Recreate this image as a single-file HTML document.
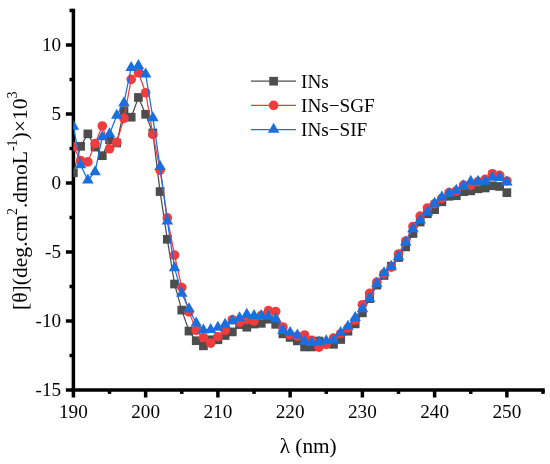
<!DOCTYPE html>
<html lang="en"><head><meta charset="utf-8"><title>CD spectra</title>
<style>html,body{margin:0;padding:0;background:#fff}body{width:550px;height:464px;overflow:hidden}</style></head>
<body>
<svg width="550" height="464" viewBox="0 0 550 464" style="display:block">
<rect width="550" height="464" fill="#fff"/>
<defs><clipPath id="c"><rect x="73.4" y="10.5" width="469.59" height="379.5"/></clipPath></defs>
<g stroke="#000" stroke-width="3.5" fill="none">
<line x1="73.4" y1="8.75" x2="73.4" y2="391.75"/>
<line x1="71.65" y1="390" x2="544.74" y2="390"/>
<line x1="73.40" y1="390" x2="73.40" y2="397.5"/>
<line x1="109.52" y1="390" x2="109.52" y2="393.9"/>
<line x1="145.65" y1="390" x2="145.65" y2="397.5"/>
<line x1="181.77" y1="390" x2="181.77" y2="393.9"/>
<line x1="217.89" y1="390" x2="217.89" y2="397.5"/>
<line x1="254.01" y1="390" x2="254.01" y2="393.9"/>
<line x1="290.13" y1="390" x2="290.13" y2="397.5"/>
<line x1="326.26" y1="390" x2="326.26" y2="393.9"/>
<line x1="362.38" y1="390" x2="362.38" y2="397.5"/>
<line x1="398.50" y1="390" x2="398.50" y2="393.9"/>
<line x1="434.62" y1="390" x2="434.62" y2="397.5"/>
<line x1="470.75" y1="390" x2="470.75" y2="393.9"/>
<line x1="506.87" y1="390" x2="506.87" y2="397.5"/>
<line x1="542.99" y1="390" x2="542.99" y2="393.9"/>
<line x1="73.4" y1="390.00" x2="65.9" y2="390.00"/>
<line x1="73.4" y1="355.50" x2="69.5" y2="355.50"/>
<line x1="73.4" y1="321.00" x2="65.9" y2="321.00"/>
<line x1="73.4" y1="286.50" x2="69.5" y2="286.50"/>
<line x1="73.4" y1="252.00" x2="65.9" y2="252.00"/>
<line x1="73.4" y1="217.50" x2="69.5" y2="217.50"/>
<line x1="73.4" y1="183.00" x2="65.9" y2="183.00"/>
<line x1="73.4" y1="148.50" x2="69.5" y2="148.50"/>
<line x1="73.4" y1="114.00" x2="65.9" y2="114.00"/>
<line x1="73.4" y1="79.50" x2="69.5" y2="79.50"/>
<line x1="73.4" y1="45.00" x2="65.9" y2="45.00"/>
<line x1="73.4" y1="10.50" x2="69.5" y2="10.50"/>
</g>
<g clip-path="url(#c)">
<polyline fill="none" stroke="#4d4d4d" stroke-width="1.25" stroke-linejoin="round" points="73.40,172.79 80.62,146.29 87.85,133.87 95.07,147.12 102.30,155.68 109.52,139.67 116.75,142.98 123.97,110.69 131.20,117.17 138.42,97.44 145.65,114.28 152.87,132.91 160.09,191.56 167.32,239.30 174.54,284.02 181.77,310.10 188.99,331.07 196.22,340.73 203.44,345.84 210.67,339.77 217.89,339.77 225.11,335.49 232.34,331.90 239.56,324.59 246.79,327.21 254.01,324.04 261.24,323.35 268.46,319.21 275.69,324.31 282.91,333.83 290.13,337.42 297.36,340.87 304.58,346.94 311.81,346.94 319.03,341.01 326.26,343.08 333.48,344.32 340.71,339.49 347.93,331.21 355.16,323.90 362.38,312.86 369.60,298.64 376.83,285.12 384.05,275.46 391.28,266.21 398.50,257.52 405.73,246.89 412.95,233.51 420.18,222.05 427.40,213.77 434.62,209.63 441.85,201.77 449.07,196.25 456.30,195.70 463.52,191.69 470.75,190.87 477.97,188.80 485.20,187.97 492.42,185.76 499.65,186.45 506.87,192.66"/>
<rect x="69.05" y="168.44" width="8.7" height="8.7" fill="#4d4d4d"/><rect x="76.27" y="141.94" width="8.7" height="8.7" fill="#4d4d4d"/><rect x="83.50" y="129.52" width="8.7" height="8.7" fill="#4d4d4d"/><rect x="90.72" y="142.77" width="8.7" height="8.7" fill="#4d4d4d"/><rect x="97.95" y="151.33" width="8.7" height="8.7" fill="#4d4d4d"/><rect x="105.17" y="135.32" width="8.7" height="8.7" fill="#4d4d4d"/><rect x="112.40" y="138.63" width="8.7" height="8.7" fill="#4d4d4d"/><rect x="119.62" y="106.34" width="8.7" height="8.7" fill="#4d4d4d"/><rect x="126.85" y="112.82" width="8.7" height="8.7" fill="#4d4d4d"/><rect x="134.07" y="93.09" width="8.7" height="8.7" fill="#4d4d4d"/><rect x="141.30" y="109.93" width="8.7" height="8.7" fill="#4d4d4d"/><rect x="148.52" y="128.56" width="8.7" height="8.7" fill="#4d4d4d"/><rect x="155.74" y="187.21" width="8.7" height="8.7" fill="#4d4d4d"/><rect x="162.97" y="234.95" width="8.7" height="8.7" fill="#4d4d4d"/><rect x="170.19" y="279.67" width="8.7" height="8.7" fill="#4d4d4d"/><rect x="177.42" y="305.75" width="8.7" height="8.7" fill="#4d4d4d"/><rect x="184.64" y="326.72" width="8.7" height="8.7" fill="#4d4d4d"/><rect x="191.87" y="336.38" width="8.7" height="8.7" fill="#4d4d4d"/><rect x="199.09" y="341.49" width="8.7" height="8.7" fill="#4d4d4d"/><rect x="206.32" y="335.42" width="8.7" height="8.7" fill="#4d4d4d"/><rect x="213.54" y="335.42" width="8.7" height="8.7" fill="#4d4d4d"/><rect x="220.76" y="331.14" width="8.7" height="8.7" fill="#4d4d4d"/><rect x="227.99" y="327.55" width="8.7" height="8.7" fill="#4d4d4d"/><rect x="235.21" y="320.24" width="8.7" height="8.7" fill="#4d4d4d"/><rect x="242.44" y="322.86" width="8.7" height="8.7" fill="#4d4d4d"/><rect x="249.66" y="319.69" width="8.7" height="8.7" fill="#4d4d4d"/><rect x="256.89" y="319.00" width="8.7" height="8.7" fill="#4d4d4d"/><rect x="264.11" y="314.86" width="8.7" height="8.7" fill="#4d4d4d"/><rect x="271.34" y="319.96" width="8.7" height="8.7" fill="#4d4d4d"/><rect x="278.56" y="329.48" width="8.7" height="8.7" fill="#4d4d4d"/><rect x="285.78" y="333.07" width="8.7" height="8.7" fill="#4d4d4d"/><rect x="293.01" y="336.52" width="8.7" height="8.7" fill="#4d4d4d"/><rect x="300.23" y="342.59" width="8.7" height="8.7" fill="#4d4d4d"/><rect x="307.46" y="342.59" width="8.7" height="8.7" fill="#4d4d4d"/><rect x="314.68" y="336.66" width="8.7" height="8.7" fill="#4d4d4d"/><rect x="321.91" y="338.73" width="8.7" height="8.7" fill="#4d4d4d"/><rect x="329.13" y="339.97" width="8.7" height="8.7" fill="#4d4d4d"/><rect x="336.36" y="335.14" width="8.7" height="8.7" fill="#4d4d4d"/><rect x="343.58" y="326.86" width="8.7" height="8.7" fill="#4d4d4d"/><rect x="350.81" y="319.55" width="8.7" height="8.7" fill="#4d4d4d"/><rect x="358.03" y="308.51" width="8.7" height="8.7" fill="#4d4d4d"/><rect x="365.25" y="294.29" width="8.7" height="8.7" fill="#4d4d4d"/><rect x="372.48" y="280.77" width="8.7" height="8.7" fill="#4d4d4d"/><rect x="379.70" y="271.11" width="8.7" height="8.7" fill="#4d4d4d"/><rect x="386.93" y="261.86" width="8.7" height="8.7" fill="#4d4d4d"/><rect x="394.15" y="253.17" width="8.7" height="8.7" fill="#4d4d4d"/><rect x="401.38" y="242.54" width="8.7" height="8.7" fill="#4d4d4d"/><rect x="408.60" y="229.16" width="8.7" height="8.7" fill="#4d4d4d"/><rect x="415.83" y="217.70" width="8.7" height="8.7" fill="#4d4d4d"/><rect x="423.05" y="209.42" width="8.7" height="8.7" fill="#4d4d4d"/><rect x="430.27" y="205.28" width="8.7" height="8.7" fill="#4d4d4d"/><rect x="437.50" y="197.42" width="8.7" height="8.7" fill="#4d4d4d"/><rect x="444.72" y="191.90" width="8.7" height="8.7" fill="#4d4d4d"/><rect x="451.95" y="191.35" width="8.7" height="8.7" fill="#4d4d4d"/><rect x="459.17" y="187.34" width="8.7" height="8.7" fill="#4d4d4d"/><rect x="466.40" y="186.52" width="8.7" height="8.7" fill="#4d4d4d"/><rect x="473.62" y="184.45" width="8.7" height="8.7" fill="#4d4d4d"/><rect x="480.85" y="183.62" width="8.7" height="8.7" fill="#4d4d4d"/><rect x="488.07" y="181.41" width="8.7" height="8.7" fill="#4d4d4d"/><rect x="495.30" y="182.10" width="8.7" height="8.7" fill="#4d4d4d"/><rect x="502.52" y="188.31" width="8.7" height="8.7" fill="#4d4d4d"/>

<polyline fill="none" stroke="#f03c3c" stroke-width="1.25" stroke-linejoin="round" points="73.40,146.71 80.62,160.64 87.85,161.89 95.07,143.67 102.30,126.01 109.52,148.78 116.75,142.29 123.97,118.42 131.20,79.36 138.42,72.74 145.65,92.75 152.87,134.42 160.09,170.17 167.32,217.91 174.54,255.04 181.77,287.47 188.99,311.89 196.22,330.25 203.44,337.70 210.67,343.08 217.89,336.73 225.11,330.25 232.34,319.76 239.56,322.38 246.79,319.62 254.01,321.00 261.24,315.48 268.46,310.65 275.69,311.48 282.91,326.93 290.13,334.80 297.36,336.18 304.58,334.94 311.81,340.32 319.03,347.08 326.26,344.46 333.48,338.11 340.71,333.70 347.93,328.18 355.16,320.31 362.38,304.72 369.60,293.40 376.83,282.08 384.05,273.67 391.28,267.18 398.50,253.93 405.73,240.96 412.95,226.47 420.18,216.12 427.40,207.98 434.62,203.70 441.85,198.46 449.07,192.52 456.30,191.00 463.52,185.07 470.75,185.48 477.97,181.76 485.20,179.27 492.42,173.75 499.65,175.27 506.87,180.93"/>
<circle cx="73.40" cy="146.71" r="4.8" fill="#f03c3c"/><circle cx="80.62" cy="160.64" r="4.8" fill="#f03c3c"/><circle cx="87.85" cy="161.89" r="4.8" fill="#f03c3c"/><circle cx="95.07" cy="143.67" r="4.8" fill="#f03c3c"/><circle cx="102.30" cy="126.01" r="4.8" fill="#f03c3c"/><circle cx="109.52" cy="148.78" r="4.8" fill="#f03c3c"/><circle cx="116.75" cy="142.29" r="4.8" fill="#f03c3c"/><circle cx="123.97" cy="118.42" r="4.8" fill="#f03c3c"/><circle cx="131.20" cy="79.36" r="4.8" fill="#f03c3c"/><circle cx="138.42" cy="72.74" r="4.8" fill="#f03c3c"/><circle cx="145.65" cy="92.75" r="4.8" fill="#f03c3c"/><circle cx="152.87" cy="134.42" r="4.8" fill="#f03c3c"/><circle cx="160.09" cy="170.17" r="4.8" fill="#f03c3c"/><circle cx="167.32" cy="217.91" r="4.8" fill="#f03c3c"/><circle cx="174.54" cy="255.04" r="4.8" fill="#f03c3c"/><circle cx="181.77" cy="287.47" r="4.8" fill="#f03c3c"/><circle cx="188.99" cy="311.89" r="4.8" fill="#f03c3c"/><circle cx="196.22" cy="330.25" r="4.8" fill="#f03c3c"/><circle cx="203.44" cy="337.70" r="4.8" fill="#f03c3c"/><circle cx="210.67" cy="343.08" r="4.8" fill="#f03c3c"/><circle cx="217.89" cy="336.73" r="4.8" fill="#f03c3c"/><circle cx="225.11" cy="330.25" r="4.8" fill="#f03c3c"/><circle cx="232.34" cy="319.76" r="4.8" fill="#f03c3c"/><circle cx="239.56" cy="322.38" r="4.8" fill="#f03c3c"/><circle cx="246.79" cy="319.62" r="4.8" fill="#f03c3c"/><circle cx="254.01" cy="321.00" r="4.8" fill="#f03c3c"/><circle cx="261.24" cy="315.48" r="4.8" fill="#f03c3c"/><circle cx="268.46" cy="310.65" r="4.8" fill="#f03c3c"/><circle cx="275.69" cy="311.48" r="4.8" fill="#f03c3c"/><circle cx="282.91" cy="326.93" r="4.8" fill="#f03c3c"/><circle cx="290.13" cy="334.80" r="4.8" fill="#f03c3c"/><circle cx="297.36" cy="336.18" r="4.8" fill="#f03c3c"/><circle cx="304.58" cy="334.94" r="4.8" fill="#f03c3c"/><circle cx="311.81" cy="340.32" r="4.8" fill="#f03c3c"/><circle cx="319.03" cy="347.08" r="4.8" fill="#f03c3c"/><circle cx="326.26" cy="344.46" r="4.8" fill="#f03c3c"/><circle cx="333.48" cy="338.11" r="4.8" fill="#f03c3c"/><circle cx="340.71" cy="333.70" r="4.8" fill="#f03c3c"/><circle cx="347.93" cy="328.18" r="4.8" fill="#f03c3c"/><circle cx="355.16" cy="320.31" r="4.8" fill="#f03c3c"/><circle cx="362.38" cy="304.72" r="4.8" fill="#f03c3c"/><circle cx="369.60" cy="293.40" r="4.8" fill="#f03c3c"/><circle cx="376.83" cy="282.08" r="4.8" fill="#f03c3c"/><circle cx="384.05" cy="273.67" r="4.8" fill="#f03c3c"/><circle cx="391.28" cy="267.18" r="4.8" fill="#f03c3c"/><circle cx="398.50" cy="253.93" r="4.8" fill="#f03c3c"/><circle cx="405.73" cy="240.96" r="4.8" fill="#f03c3c"/><circle cx="412.95" cy="226.47" r="4.8" fill="#f03c3c"/><circle cx="420.18" cy="216.12" r="4.8" fill="#f03c3c"/><circle cx="427.40" cy="207.98" r="4.8" fill="#f03c3c"/><circle cx="434.62" cy="203.70" r="4.8" fill="#f03c3c"/><circle cx="441.85" cy="198.46" r="4.8" fill="#f03c3c"/><circle cx="449.07" cy="192.52" r="4.8" fill="#f03c3c"/><circle cx="456.30" cy="191.00" r="4.8" fill="#f03c3c"/><circle cx="463.52" cy="185.07" r="4.8" fill="#f03c3c"/><circle cx="470.75" cy="185.48" r="4.8" fill="#f03c3c"/><circle cx="477.97" cy="181.76" r="4.8" fill="#f03c3c"/><circle cx="485.20" cy="179.27" r="4.8" fill="#f03c3c"/><circle cx="492.42" cy="173.75" r="4.8" fill="#f03c3c"/><circle cx="499.65" cy="175.27" r="4.8" fill="#f03c3c"/><circle cx="506.87" cy="180.93" r="4.8" fill="#f03c3c"/>

<polyline fill="none" stroke="#1a6fdf" stroke-width="1.25" stroke-linejoin="round" points="73.40,126.43 80.62,164.94 87.85,180.25 95.07,171.84 102.30,136.92 109.52,134.02 116.75,115.53 123.97,102.84 131.20,67.65 138.42,65.71 145.65,74.27 152.87,117.88 160.09,166.59 167.32,221.10 174.54,267.88 181.77,293.41 188.99,309.01 196.22,323.22 203.44,330.12 210.67,329.57 217.89,327.50 225.11,324.33 232.34,320.88 239.56,317.84 246.79,314.39 254.01,315.77 261.24,315.77 268.46,316.46 275.69,318.94 282.91,330.67 290.13,332.61 297.36,335.09 304.58,341.30 311.81,342.54 319.03,342.13 326.26,340.89 333.48,340.20 340.71,332.61 347.93,326.40 355.16,317.70 362.38,308.87 369.60,298.52 376.83,284.03 384.05,272.99 391.28,266.50 398.50,256.84 405.73,242.08 412.95,228.83 420.18,220.27 427.40,212.13 434.62,203.30 441.85,197.23 449.07,193.78 456.30,190.33 463.52,185.91 470.75,181.50 477.97,181.50 485.20,181.50 492.42,177.49 499.65,177.77 506.87,182.19"/>
<polygon points="73.40,119.77 79.15,129.77 67.65,129.77" fill="#1a6fdf"/><polygon points="80.62,158.27 86.37,168.27 74.87,168.27" fill="#1a6fdf"/><polygon points="87.85,173.59 93.60,183.59 82.10,183.59" fill="#1a6fdf"/><polygon points="95.07,165.17 100.82,175.17 89.32,175.17" fill="#1a6fdf"/><polygon points="102.30,130.26 108.05,140.26 96.55,140.26" fill="#1a6fdf"/><polygon points="109.52,127.36 115.27,137.36 103.77,137.36" fill="#1a6fdf"/><polygon points="116.75,108.87 122.50,118.87 111.00,118.87" fill="#1a6fdf"/><polygon points="123.97,96.17 129.72,106.17 118.22,106.17" fill="#1a6fdf"/><polygon points="131.20,60.98 136.95,70.98 125.45,70.98" fill="#1a6fdf"/><polygon points="138.42,59.05 144.17,69.05 132.67,69.05" fill="#1a6fdf"/><polygon points="145.65,67.60 151.40,77.60 139.90,77.60" fill="#1a6fdf"/><polygon points="152.87,111.21 158.62,121.21 147.12,121.21" fill="#1a6fdf"/><polygon points="160.09,159.93 165.84,169.93 154.34,169.93" fill="#1a6fdf"/><polygon points="167.32,214.44 173.07,224.44 161.57,224.44" fill="#1a6fdf"/><polygon points="174.54,261.22 180.29,271.22 168.79,271.22" fill="#1a6fdf"/><polygon points="181.77,286.75 187.52,296.75 176.02,296.75" fill="#1a6fdf"/><polygon points="188.99,302.34 194.74,312.34 183.24,312.34" fill="#1a6fdf"/><polygon points="196.22,316.56 201.97,326.56 190.47,326.56" fill="#1a6fdf"/><polygon points="203.44,323.46 209.19,333.46 197.69,333.46" fill="#1a6fdf"/><polygon points="210.67,322.90 216.42,332.90 204.92,332.90" fill="#1a6fdf"/><polygon points="217.89,320.83 223.64,330.83 212.14,330.83" fill="#1a6fdf"/><polygon points="225.11,317.66 230.86,327.66 219.36,327.66" fill="#1a6fdf"/><polygon points="232.34,314.21 238.09,324.21 226.59,324.21" fill="#1a6fdf"/><polygon points="239.56,311.17 245.31,321.17 233.81,321.17" fill="#1a6fdf"/><polygon points="246.79,307.72 252.54,317.72 241.04,317.72" fill="#1a6fdf"/><polygon points="254.01,309.10 259.76,319.10 248.26,319.10" fill="#1a6fdf"/><polygon points="261.24,309.10 266.99,319.10 255.49,319.10" fill="#1a6fdf"/><polygon points="268.46,309.79 274.21,319.79 262.71,319.79" fill="#1a6fdf"/><polygon points="275.69,312.28 281.44,322.28 269.94,322.28" fill="#1a6fdf"/><polygon points="282.91,324.01 288.66,334.01 277.16,334.01" fill="#1a6fdf"/><polygon points="290.13,325.94 295.88,335.94 284.38,335.94" fill="#1a6fdf"/><polygon points="297.36,328.42 303.11,338.42 291.61,338.42" fill="#1a6fdf"/><polygon points="304.58,334.63 310.33,344.63 298.83,344.63" fill="#1a6fdf"/><polygon points="311.81,335.88 317.56,345.88 306.06,345.88" fill="#1a6fdf"/><polygon points="319.03,335.46 324.78,345.46 313.28,345.46" fill="#1a6fdf"/><polygon points="326.26,334.22 332.01,344.22 320.51,344.22" fill="#1a6fdf"/><polygon points="333.48,333.53 339.23,343.53 327.73,343.53" fill="#1a6fdf"/><polygon points="340.71,325.94 346.46,335.94 334.96,335.94" fill="#1a6fdf"/><polygon points="347.93,319.73 353.68,329.73 342.18,329.73" fill="#1a6fdf"/><polygon points="355.16,311.04 360.91,321.04 349.41,321.04" fill="#1a6fdf"/><polygon points="362.38,302.20 368.13,312.20 356.63,312.20" fill="#1a6fdf"/><polygon points="369.60,291.85 375.35,301.85 363.85,301.85" fill="#1a6fdf"/><polygon points="376.83,277.36 382.58,287.36 371.08,287.36" fill="#1a6fdf"/><polygon points="384.05,266.32 389.80,276.32 378.30,276.32" fill="#1a6fdf"/><polygon points="391.28,259.84 397.03,269.84 385.53,269.84" fill="#1a6fdf"/><polygon points="398.50,250.18 404.25,260.18 392.75,260.18" fill="#1a6fdf"/><polygon points="405.73,235.41 411.48,245.41 399.98,245.41" fill="#1a6fdf"/><polygon points="412.95,222.16 418.70,232.16 407.20,232.16" fill="#1a6fdf"/><polygon points="420.18,213.61 425.93,223.61 414.43,223.61" fill="#1a6fdf"/><polygon points="427.40,205.47 433.15,215.47 421.65,215.47" fill="#1a6fdf"/><polygon points="434.62,196.63 440.38,206.63 428.88,206.63" fill="#1a6fdf"/><polygon points="441.85,190.56 447.60,200.56 436.10,200.56" fill="#1a6fdf"/><polygon points="449.07,187.11 454.82,197.11 443.32,197.11" fill="#1a6fdf"/><polygon points="456.30,183.66 462.05,193.66 450.55,193.66" fill="#1a6fdf"/><polygon points="463.52,179.25 469.27,189.25 457.77,189.25" fill="#1a6fdf"/><polygon points="470.75,174.83 476.50,184.83 465.00,184.83" fill="#1a6fdf"/><polygon points="477.97,174.83 483.72,184.83 472.22,184.83" fill="#1a6fdf"/><polygon points="485.20,174.83 490.95,184.83 479.45,184.83" fill="#1a6fdf"/><polygon points="492.42,170.83 498.17,180.83 486.67,180.83" fill="#1a6fdf"/><polygon points="499.65,171.10 505.40,181.10 493.90,181.10" fill="#1a6fdf"/><polygon points="506.87,175.52 512.62,185.52 501.12,185.52" fill="#1a6fdf"/>

</g>
<g font-family="'Liberation Serif', 'Times New Roman', serif" font-size="19.2" fill="#000">
<text x="73.40" y="418.3" text-anchor="middle">190</text>
<text x="145.65" y="418.3" text-anchor="middle">200</text>
<text x="217.89" y="418.3" text-anchor="middle">210</text>
<text x="290.13" y="418.3" text-anchor="middle">220</text>
<text x="362.38" y="418.3" text-anchor="middle">230</text>
<text x="434.62" y="418.3" text-anchor="middle">240</text>
<text x="506.87" y="418.3" text-anchor="middle">250</text>
<text x="61.1" y="51.40" text-anchor="end">10</text>
<text x="61.1" y="120.40" text-anchor="end">5</text>
<text x="61.1" y="189.40" text-anchor="end">0</text>
<text x="61.1" y="258.40" text-anchor="end">-5</text>
<text x="61.1" y="327.40" text-anchor="end">-10</text>
<text x="61.1" y="396.40" text-anchor="end">-15</text>
</g>
<g font-family="'Liberation Serif', 'Times New Roman', serif" font-size="21.3" fill="#000">
<text x="308.2" y="453" text-anchor="middle">λ (nm)</text>
<text transform="translate(26.8,200.7) rotate(-90)" text-anchor="middle" font-size="21.6">[θ](deg.cm<tspan font-size="14" dy="-9.4">2</tspan><tspan dy="9.4">.dmoL</tspan><tspan font-size="14" dy="-9.4">-1</tspan><tspan dy="9.4">)×10</tspan><tspan font-size="14" dy="-9.4">3</tspan></text>
</g>
<g font-family="'Liberation Serif', 'Times New Roman', serif" font-size="19.2" fill="#000">
<line x1="251" y1="81.2" x2="296" y2="81.2" stroke="#4d4d4d" stroke-width="1.25"/>
<rect x="269.25" y="76.85" width="8.7" height="8.7" fill="#4d4d4d"/>
<text x="301.0" y="87.60">INs</text>
<line x1="251" y1="105.4" x2="296" y2="105.4" stroke="#f03c3c" stroke-width="1.25"/>
<circle cx="273.60" cy="105.40" r="4.8" fill="#f03c3c"/>
<text x="301.0" y="111.80">INs−SGF</text>
<line x1="251" y1="129.5" x2="296" y2="129.5" stroke="#1a6fdf" stroke-width="1.25"/>
<polygon points="273.60,122.83 279.35,132.83 267.85,132.83" fill="#1a6fdf"/>
<text x="301.0" y="135.90">INs−SIF</text>
</g>
</svg>
</body></html>
